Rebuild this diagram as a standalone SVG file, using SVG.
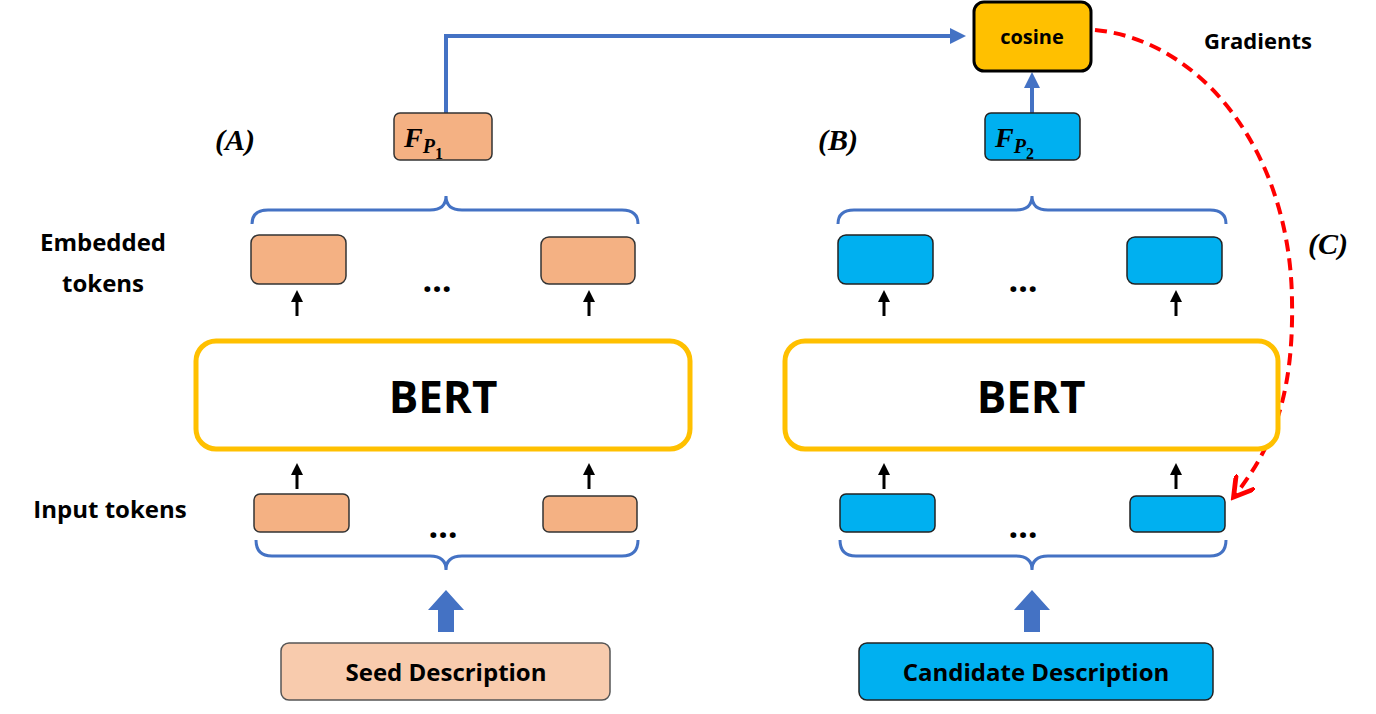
<svg xmlns="http://www.w3.org/2000/svg" width="1376" height="714" viewBox="0 0 1376 714">
<style>
.t{font-family:"Open Sans","Liberation Sans",sans-serif;font-weight:bold;fill:#000}
.m{font-family:"Liberation Serif",serif;font-weight:bold;font-style:italic;fill:#000}
.o{fill:#F4B183;stroke:#333;stroke-width:1.5}
.b{fill:#00B0F0;stroke:#222;stroke-width:1.5}
.bert{fill:#fff;stroke:#FFC000;stroke-width:5}
.br{fill:none;stroke:#4472C4;stroke-width:3}
.k{stroke:#000;stroke-width:3;marker-end:url(#ka)}
</style>
<defs>
<marker id="ka" markerWidth="4" markerHeight="4" refX="2" refY="2" orient="auto"><path d="M0,0L4,2L0,4z" fill="#000"/></marker>
<marker id="ba" markerWidth="4" markerHeight="4" refX="2" refY="2" orient="auto"><path d="M0,0L4,2L0,4z" fill="#4472C4"/></marker>
<marker id="ra" markerWidth="6" markerHeight="6" refX="4" refY="3" orient="auto"><path d="M0,0L5,3L0,6" fill="none" stroke="#FF0000" stroke-width="1.2"/></marker>
</defs>
<rect width="1376" height="714" fill="#fff"/>
<g id="connectors">
<path d="M446,113V36H958" fill="none" stroke="#4472C4" stroke-width="4" marker-end="url(#ba)"/>
<path d="M1032,113V80" fill="none" stroke="#4472C4" stroke-width="4" marker-end="url(#ba)"/>
<path d="M1095,30C1200,40 1290,150 1292,300C1294,400 1270,450 1236,494" fill="none" stroke="#FF0000" stroke-width="4" stroke-dasharray="12,7" marker-end="url(#ra)"/>
<line class="k" x1="297" y1="316" x2="297" y2="296"/>
<line class="k" x1="589" y1="316" x2="589" y2="296"/>
<line class="k" x1="884" y1="316" x2="884" y2="296"/>
<line class="k" x1="1176" y1="316" x2="1176" y2="296"/>
<line class="k" x1="297" y1="489" x2="297" y2="469"/>
<line class="k" x1="589" y1="489" x2="589" y2="469"/>
<line class="k" x1="884" y1="489" x2="884" y2="469"/>
<line class="k" x1="1176" y1="489" x2="1176" y2="469"/>
<path d="M438,632V610H428L446,590L464,610H454V632Z" fill="#4472C4"/>
<path d="M1024,632V610H1014L1032,590L1050,610H1040V632Z" fill="#4472C4"/>
</g>
<g id="cosine"><rect x="974" y="2" width="117" height="69" rx="10" fill="#FFC000" stroke="#000" stroke-width="3"/><text class="t" x="1032" y="44" font-size="20" text-anchor="middle">cosine</text></g>
<g id="gradients"><text class="t" x="1258" y="49" font-size="22" text-anchor="middle">Gradients</text></g>
<g id="labelC"><text class="m" x="1328" y="254" font-size="30" text-anchor="middle">(<tspan>C</tspan>)</text></g>
<g id="labelA"><text class="m" x="235" y="150" font-size="30" text-anchor="middle">(A)</text></g>
<g id="labelB"><text class="m" x="838" y="150" font-size="30" text-anchor="middle">(B)</text></g>
<g id="fp1"><rect class="o" x="394" y="113" width="98" height="47" rx="6"/><text class="m" x="404" y="147" font-size="28">F<tspan font-size="20" dy="6">P</tspan><tspan font-size="16" font-style="normal" dy="6">1</tspan></text></g>
<g id="fp2"><rect class="b" x="985" y="113" width="95" height="47" rx="6"/><text class="m" x="995" y="147" font-size="28">F<tspan font-size="20" dy="6">P</tspan><tspan font-size="16" font-style="normal" dy="6">2</tspan></text></g>
<g id="braces">
<path class="br" d="M252,224Q252,210 268,210H430Q446,210 446,196Q446,210 462,210H622Q638,210 638,224"/>
<path class="br" d="M838,224Q838,210 854,210H1016Q1032,210 1032,196Q1032,210 1048,210H1210Q1226,210 1226,224"/>
<path class="br" d="M256,540Q256,556 272,556H430Q446,556 446,570Q446,556 462,556H622Q638,556 638,540"/>
<path class="br" d="M840,540Q840,556 856,556H1016Q1032,556 1032,570Q1032,556 1048,556H1210Q1226,556 1226,540"/>
</g>
<g id="embedded-labels"><text class="t" x="103" y="251" font-size="24" text-anchor="middle">Embedded</text><text class="t" x="103" y="292" font-size="24" text-anchor="middle">tokens</text></g>
<g id="input-label"><text class="t" x="110" y="518" font-size="24" text-anchor="middle">Input tokens</text></g>
<g id="emb-left"><rect class="o" x="251" y="235" width="95" height="49" rx="8"/><rect class="o" x="541" y="237" width="94" height="47" rx="8"/><text class="t" x="437" y="292" font-size="34" text-anchor="middle">…</text></g>
<g id="emb-right"><rect class="b" x="838" y="235" width="95" height="49" rx="8"/><rect class="b" x="1127" y="237" width="95" height="47" rx="8"/><text class="t" x="1023" y="292" font-size="34" text-anchor="middle">…</text></g>
<g id="bert-left"><rect class="bert" x="196" y="341" width="494" height="108" rx="20"/><text class="t" x="443" y="413" font-size="44" text-anchor="middle">BERT</text></g>
<g id="bert-right"><rect class="bert" x="785" y="341" width="493" height="108" rx="20"/><text class="t" x="1031" y="413" font-size="44" text-anchor="middle">BERT</text></g>
<g id="in-left"><rect class="o" x="254" y="494" width="95" height="38" rx="6"/><rect class="o" x="543" y="496" width="94" height="36" rx="6"/><text class="t" x="443" y="538" font-size="34" text-anchor="middle">…</text></g>
<g id="in-right"><rect class="b" x="840" y="494" width="95" height="38" rx="6"/><rect class="b" x="1130" y="496" width="95" height="36" rx="6"/><text class="t" x="1023" y="538" font-size="34" text-anchor="middle">…</text></g>
<g id="seed"><rect x="281" y="643" width="329" height="57" rx="8" fill="#F8CBAD" stroke="#555" stroke-width="1.5"/><text class="t" x="446" y="681" font-size="24" text-anchor="middle">Seed Description</text></g>
<g id="candidate"><rect x="859" y="643" width="354" height="57" rx="8" fill="#00B0F0" stroke="#222" stroke-width="1.5"/><text class="t" x="1036" y="681" font-size="24" text-anchor="middle">Candidate Description</text></g>
</svg>
